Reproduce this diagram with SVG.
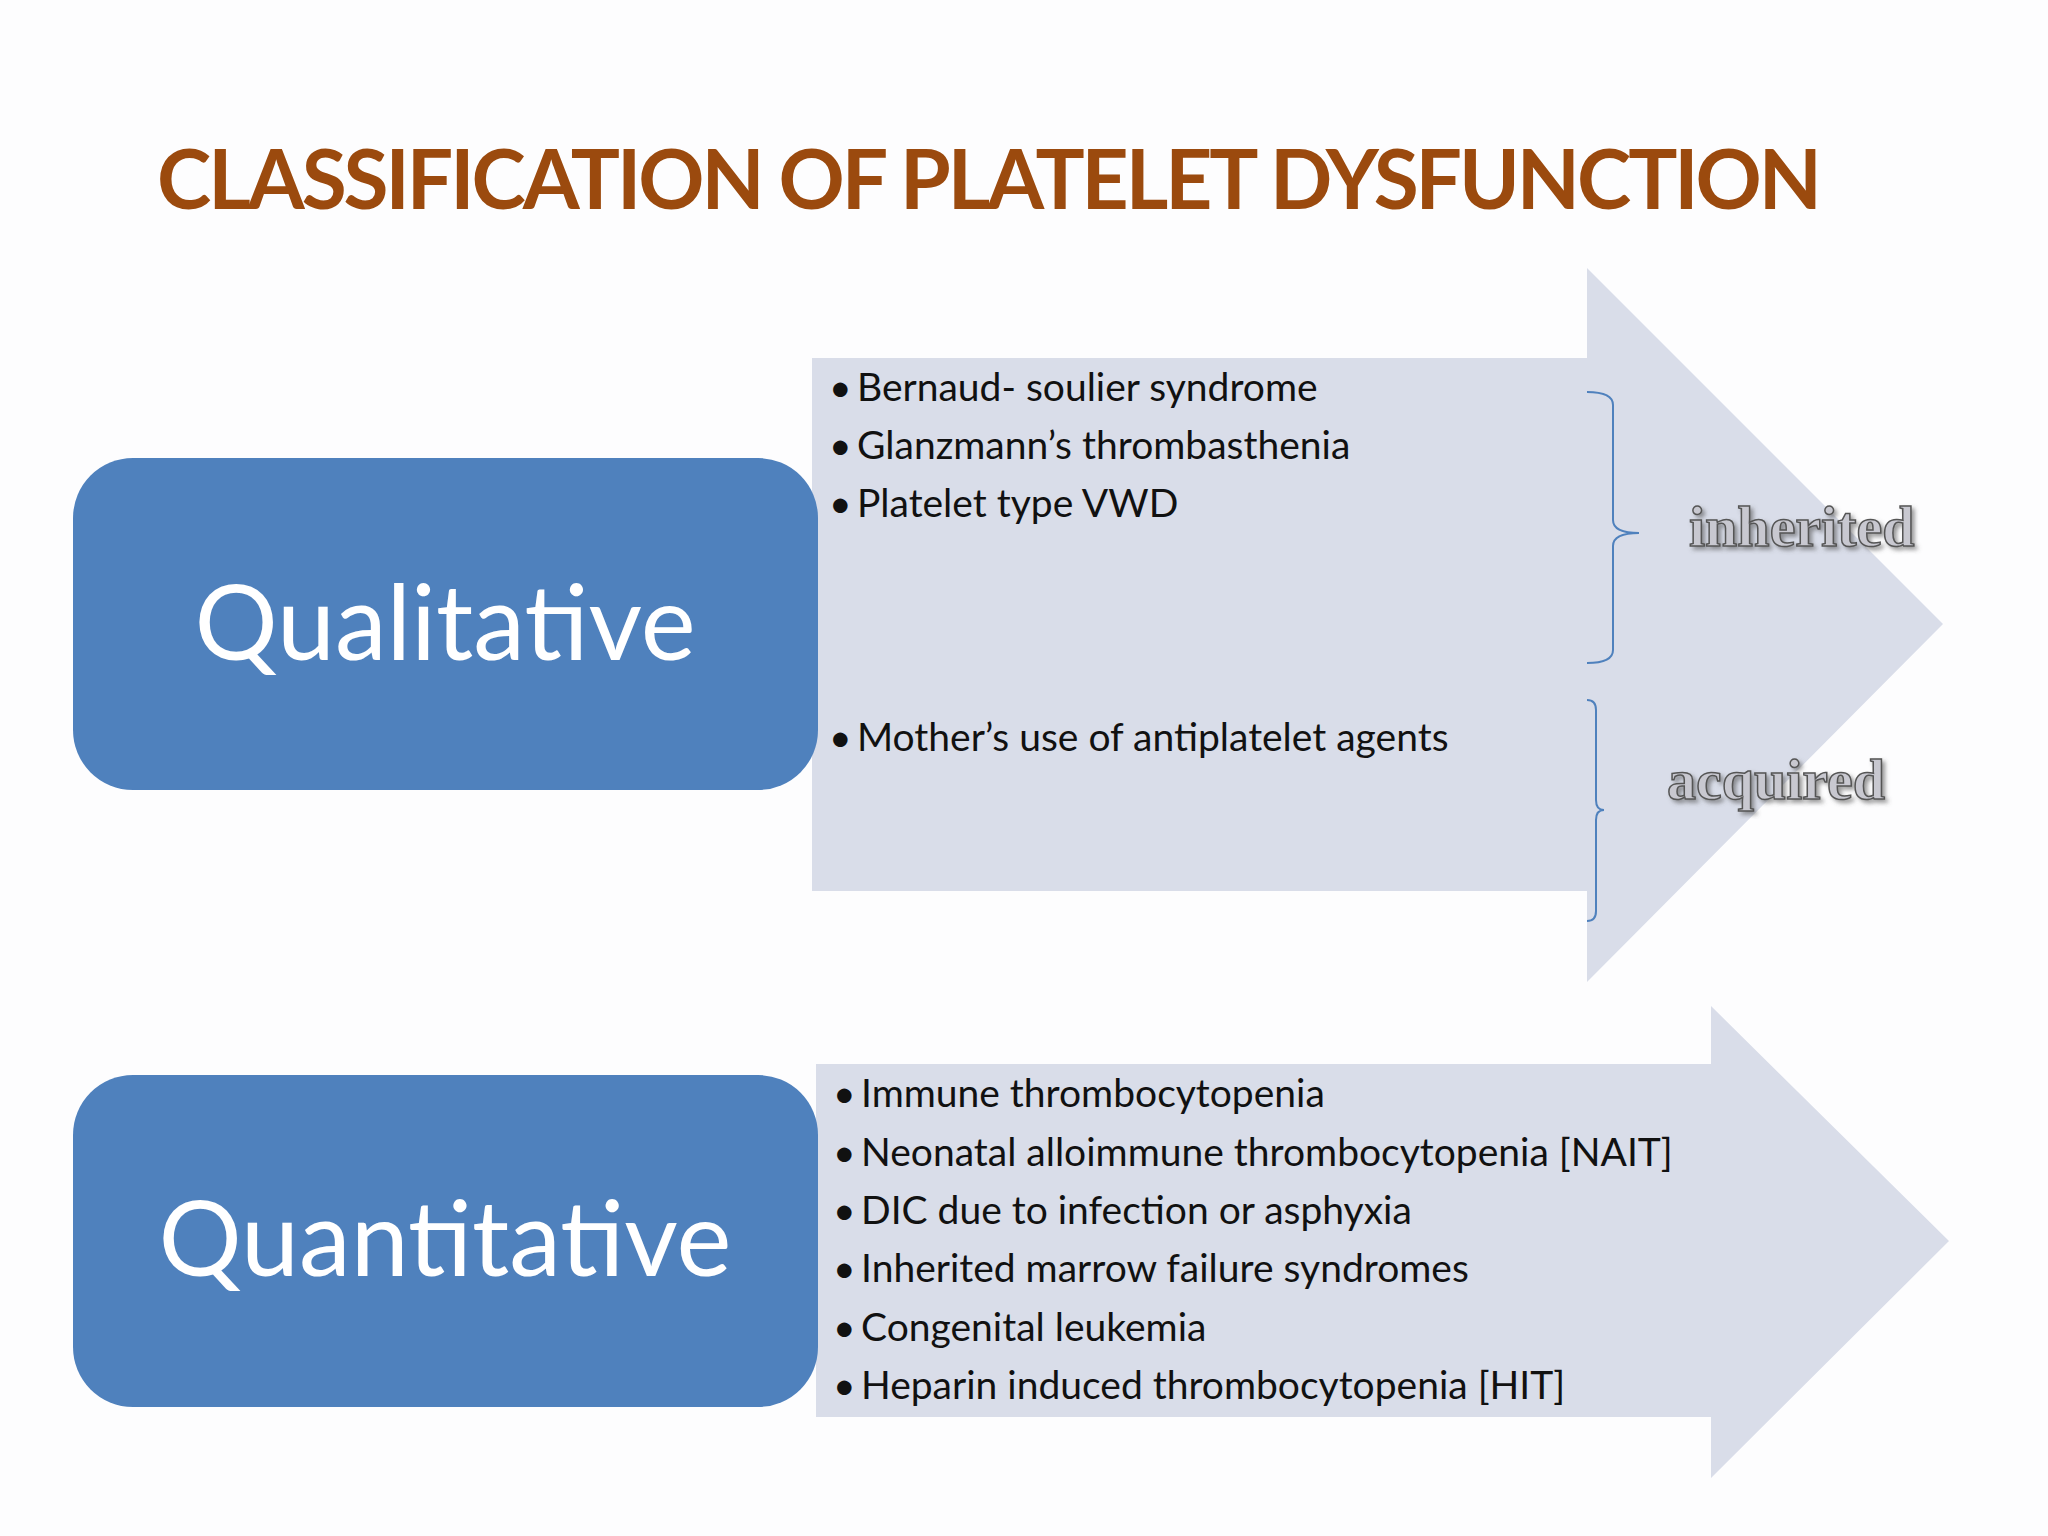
<svg xmlns="http://www.w3.org/2000/svg" width="2048" height="1536" viewBox="0 0 2048 1536">
<style>
.t{font-family:Lato,"Open Sans",sans-serif;font-size:39px;fill:#111}
.big{font-family:Lato,"Open Sans",sans-serif;font-size:104px;fill:#fff;text-anchor:middle}
.lbl{font-family:"Liberation Serif",serif;font-weight:bold;font-size:58px;fill:#c8c8d0;stroke:#555;stroke-width:1.5}
.br{fill:none;stroke:#4f81bd;stroke-width:2}
.arrow{fill:#d9dde9}
.box{fill:#4f81bd}
</style>
<defs><filter id="sh"><feDropShadow dx="3" dy="3" stdDeviation="2" flood-color="#555" flood-opacity="0.6"/></filter></defs>
<rect width="2048" height="1536" fill="#fdfdfe"/>
<text x="157" y="209" font-family="Lato,'Open Sans',sans-serif" font-weight="bold" font-size="82" fill="#9b4a0e" textLength="1665">CLASSIFICATION OF PLATELET DYSFUNCTION</text>
<g id="arrow1"><polygon class="arrow" points="812,358 1587,358 1587,268 1943,624 1587,982 1587,891 812,891"/>
<text class="t" x="829" y="401">•</text><text class="t" x="857" y="401">Bernaud- soulier syndrome</text>
<text class="t" x="829" y="459">•</text><text class="t" x="857" y="459">Glanzmann’s thrombasthenia</text>
<text class="t" x="829" y="517">•</text><text class="t" x="857" y="517">Platelet type VWD</text>
<text class="t" x="829" y="751">•</text><text class="t" x="857" y="751">Mother’s use of antiplatelet agents</text></g>
<g id="qualitative"><rect class="box" x="73" y="458" width="745" height="332" rx="60"/><text class="big" x="445" y="660">Qualitative</text></g>
<g id="arrow2"><polygon class="arrow" points="816,1064 1711,1064 1711,1006 1949,1241 1711,1478 1711,1417 816,1417"/>
<text class="t" x="833" y="1107">•</text><text class="t" x="861" y="1107">Immune thrombocytopenia</text>
<text class="t" x="833" y="1166">•</text><text class="t" x="861" y="1166">Neonatal alloimmune thrombocytopenia [NAIT]</text>
<text class="t" x="833" y="1224">•</text><text class="t" x="861" y="1224">DIC due to infection or asphyxia</text>
<text class="t" x="833" y="1282">•</text><text class="t" x="861" y="1282">Inherited marrow failure syndromes</text>
<text class="t" x="833" y="1341">•</text><text class="t" x="861" y="1341">Congenital leukemia</text>
<text class="t" x="833" y="1399">•</text><text class="t" x="861" y="1399">Heparin induced thrombocytopenia [HIT]</text></g>
<g id="quantitative"><rect class="box" x="73" y="1075" width="745" height="332" rx="60"/><text class="big" x="445" y="1276">Quantitative</text></g>
<g id="connectors">
<path class="br" d="M1587,392 Q1613,392 1613,405 L1613,520 Q1613,533 1639,533 Q1613,533 1613,546 L1613,650 Q1613,663 1587,663"/>
<path class="br" d="M1587,700 Q1596,700 1596,710 L1596,800 Q1596,810 1604,810 Q1596,810 1596,820 L1596,911 Q1596,921 1587,921"/>
</g>
<g id="inherited"><text class="lbl" x="1689" y="546" filter="url(#sh)">inherited</text></g>
<g id="acquired"><text class="lbl" x="1667" y="799" filter="url(#sh)">acquired</text></g>
</svg>
